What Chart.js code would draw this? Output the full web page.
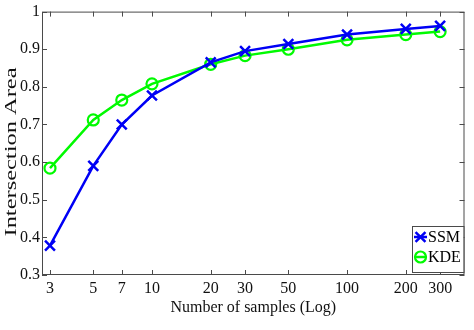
<!DOCTYPE html>
<html>
<head>
<meta charset="utf-8">
<script src="https://cdn.jsdelivr.net/npm/chart.js@4/dist/chart.umd.min.js"></script>
<style>
html,body{margin:0;padding:0;background:#fff;}
#wrap{width:474px;height:330px;position:relative;}
</style>
</head>
<body>
<div id="wrap"><canvas id="c" width="474" height="330"></canvas></div>
<script>
const samples = [3, 5, 7, 10, 20, 30, 50, 100, 200, 300];
const ssmValues = [0.378, 0.59, 0.70, 0.777, 0.865, 0.895, 0.914, 0.939, 0.954, 0.962];
const kdeValues = [0.584, 0.712, 0.765, 0.808, 0.860, 0.883, 0.900, 0.925, 0.939, 0.947];
const xTickValues = [3, 5, 7, 10, 20, 30, 50, 100, 200, 300];
const yTickValues = [0.3, 0.4, 0.5, 0.6, 0.7, 0.8, 0.9, 1];
const seriesNames = ['SSM', 'KDE'];
const xTitle = 'Number of samples (Log)';
const yTitle = 'Intersection Area';

const FONT = 'Liberation Serif, Times New Roman, serif';
const AXIS_COLOR = '#4a4a4a';
const BLUE = 'rgb(0,0,245)';
const GREEN = 'rgb(0,250,0)';

const toPts = vals => samples.map((s, i) => ({x: s, y: vals[i]}));

const framePlugin = {
  id: 'frame',
  afterDatasetsDraw(chart) {
    const {ctx, chartArea: a, scales} = chart;
    ctx.save();
    ctx.strokeStyle = AXIS_COLOR;
    ctx.lineWidth = 1;
    ctx.strokeRect(a.left + 0.5, a.top + 0.5, a.right - a.left - 1, a.bottom - a.top - 1);
    const tl = 5;
    ctx.beginPath();
    xTickValues.forEach(v => {
      const px = Math.round(scales.x.getPixelForValue(v)) + 0.5;
      ctx.moveTo(px, a.bottom); ctx.lineTo(px, a.bottom - tl);
      ctx.moveTo(px, a.top); ctx.lineTo(px, a.top + tl);
    });
    yTickValues.forEach(v => {
      const py = Math.round(scales.y.getPixelForValue(v)) + 0.5;
      ctx.moveTo(a.left, py); ctx.lineTo(a.left + tl, py);
      ctx.moveTo(a.right, py); ctx.lineTo(a.right - tl, py);
    });
    ctx.stroke();
    ctx.restore();
  },
  afterDraw(chart) {
    const {ctx, chartArea: a} = chart;
    // y-axis title (stretched along its length as in the reference)
    ctx.save();
    ctx.translate(16, 152);
    ctx.rotate(-Math.PI / 2);
    ctx.font = '17px ' + FONT;
    const w = ctx.measureText(yTitle).width;
    ctx.scale(169 / w, 1);
    ctx.fillStyle = '#111';
    ctx.textAlign = 'center';
    ctx.textBaseline = 'alphabetic';
    ctx.fillText(yTitle, 0, 0);
    ctx.restore();

    // legend
    const bx = 412, bw = a.right - bx - 1, by = 226, bh = 46;
    ctx.save();
    ctx.fillStyle = '#fff';
    ctx.fillRect(bx, by, bw, bh);
    ctx.strokeStyle = AXIS_COLOR;
    ctx.lineWidth = 1;
    ctx.strokeRect(bx + 0.5, by + 0.5, bw, bh);
    const rows = [237, 257];
    chart.data.datasets.forEach((ds, i) => {
      const y = rows[i];
      ctx.strokeStyle = ds.borderColor;
      ctx.lineWidth = ds.borderWidth;
      ctx.beginPath();
      ctx.moveTo(414, y); ctx.lineTo(427, y);
      ctx.stroke();
      ctx.lineWidth = ds.pointBorderWidth;
      ctx.fillStyle = 'rgba(0,0,0,0)';
      Chart.helpers.drawPoint(ctx, {pointStyle: ds.pointStyle, radius: ds.pointRadius, rotation: 0, borderWidth: ds.pointBorderWidth}, 420.5, y);
      ctx.fillStyle = '#000';
      ctx.font = '16px ' + FONT;
      ctx.textBaseline = 'middle';
      ctx.textAlign = 'left';
      ctx.fillText(ds.label, 428, y + 1);
    });
    ctx.restore();
  }
};

new Chart(document.getElementById('c'), {
  type: 'line',
  data: {
    datasets: [
      {
        label: seriesNames[0], data: toPts(ssmValues),
        borderColor: BLUE, backgroundColor: BLUE, borderWidth: 2.5,
        pointStyle: 'crossRot', pointRadius: 7, pointBorderWidth: 2.5,
        pointBorderColor: BLUE, pointBackgroundColor: 'rgba(0,0,0,0)', tension: 0
      },
      {
        label: seriesNames[1], data: toPts(kdeValues),
        borderColor: GREEN, backgroundColor: GREEN, borderWidth: 2.5,
        pointStyle: 'circle', pointRadius: 5.5, pointBorderWidth: 2.2,
        pointBorderColor: GREEN, pointBackgroundColor: 'rgba(0,0,0,0)', tension: 0
      }
    ]
  },
  options: {
    responsive: false,
    animation: false,
    devicePixelRatio: 1,
    layout: {padding: {top: 5, right: 3, left: 0, bottom: 0}},
    plugins: {legend: {display: false}, tooltip: {enabled: false}},
    scales: {
      x: {
        type: 'logarithmic', min: 2.73, max: 400,
        afterBuildTicks: s => { s.ticks = xTickValues.map(v => ({value: v})); },
        afterFit: s => { s.height = 55; },
        grid: {display: false, drawTicks: false},
        border: {display: false},
        ticks: {
          autoSkip: false, maxRotation: 0, padding: 4, color: '#111',
          font: {family: FONT, size: 16},
          callback: v => String(v)
        },
        title: {display: true, text: xTitle, color: '#111',
          font: {family: FONT, size: 16}, padding: {top: 0, bottom: 13}}
      },
      y: {
        type: 'linear', min: 0.3, max: 1,
        afterBuildTicks: s => { s.ticks = yTickValues.map(v => ({value: v})); },
        afterFit: s => { s.width = 42; },
        grid: {display: false, drawTicks: false},
        border: {display: false},
        ticks: {
          padding: 2, color: '#111',
          font: {family: FONT, size: 16},
          callback: v => (Math.abs(v - 1) < 1e-9 ? '1' : v.toFixed(1))
        },
        title: {display: false}
      }
    }
  },
  plugins: [framePlugin]
});
</script>
</body>
</html>
